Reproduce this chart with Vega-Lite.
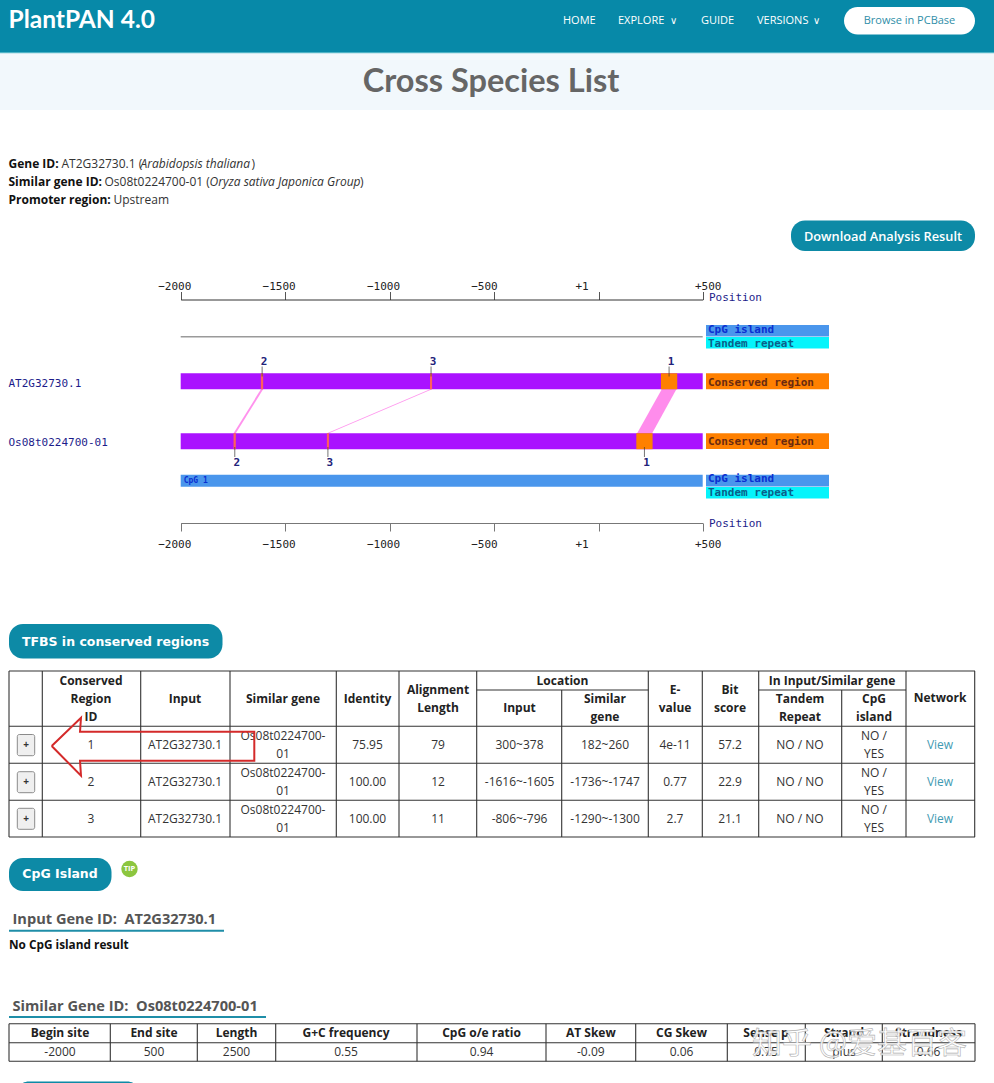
{"$schema":"https://vega.github.io/schema/vega-lite/v6.json","width":994,"height":1083,"padding":0,"autosize":{"type":"none"},"background":"#ffffff","view":{"stroke":null},"config":{"axis":{"grid":false}},
"datasets":{
"panels":[{"k":"banner","x":0,"x2":994,"y":0,"y2":52},{"k":"edge","x":0,"x2":994,"y":52,"y2":53.5},{"k":"strip","x":0,"x2":994,"y":53.5,"y2":110},{"k":"CpG","x":706,"x2":829,"y":325,"y2":336.5},{"k":"Tandem","x":706,"x2":829,"y":337,"y2":348.5},{"k":"Conserved","x":706,"x2":829,"y":373.3,"y2":389.3},{"k":"Conserved","x":706,"x2":829,"y":433.3,"y2":449},{"k":"CpG","x":706,"x2":829,"y":474.7,"y2":486.5},{"k":"Tandem","x":706,"x2":829,"y":487,"y2":498.5}],
"buttons":[{"k":"white","x":844,"x2":975,"y":7,"y2":34.5},{"k":"teal","x":791,"x2":975,"y":220.5,"y2":251},{"k":"teal","x":9,"x2":222.5,"y":624,"y2":658.5},{"k":"teal","x":9,"x2":111.5,"y":858,"y2":891},{"k":"teal","x":15,"x2":141,"y":1081.5,"y2":1112}],
"plus":[{"x":17.3,"x2":34.7,"y":734.5,"y2":755.7},{"x":17.3,"x2":34.7,"y":771.7,"y2":792.7},{"x":17.3,"x2":34.7,"y":808.3,"y2":829.3}],
"vlines":[{"x":9,"y":671,"y2":837},{"x":42.3,"y":671,"y2":837},{"x":140.7,"y":671,"y2":837},{"x":230,"y":671,"y2":837},{"x":336.3,"y":671,"y2":837},{"x":399,"y":671,"y2":837},{"x":476.7,"y":671,"y2":837},{"x":561.7,"y":690,"y2":837},{"x":648.3,"y":671,"y2":837},{"x":702.3,"y":671,"y2":837},{"x":758.7,"y":671,"y2":837},{"x":841.7,"y":690,"y2":837},{"x":906,"y":671,"y2":837},{"x":974.7,"y":671,"y2":837},{"x":9,"y":1023.7,"y2":1061.3},{"x":110.3,"y":1023.7,"y2":1061.3},{"x":197.3,"y":1023.7,"y2":1061.3},{"x":275.7,"y":1023.7,"y2":1061.3},{"x":417,"y":1023.7,"y2":1061.3},{"x":546,"y":1023.7,"y2":1061.3},{"x":635.7,"y":1023.7,"y2":1061.3},{"x":727.3,"y":1023.7,"y2":1061.3},{"x":805.3,"y":1023.7,"y2":1061.3},{"x":882.3,"y":1023.7,"y2":1061.3},{"x":975,"y":1023.7,"y2":1061.3}],
"hlines":[{"x":9,"x2":975,"y":671},{"x":476.7,"x2":648.3,"y":690},{"x":758.7,"x2":906,"y":690},{"x":9,"x2":975,"y":726.3},{"x":9,"x2":975,"y":763.3},{"x":9,"x2":975,"y":800.3},{"x":9,"x2":975,"y":837},{"x":9,"x2":975,"y":1023.7},{"x":9,"x2":975,"y":1042.7},{"x":9,"x2":975,"y":1061.3}],
"underlines":[{"x":9,"x2":224,"y":930.7},{"x":9,"x2":266,"y":1017}],
"arrow":[{"o":1,"x":51.7,"y":746},{"o":2,"x":81,"y":717.7},{"o":3,"x":80,"y":731.7},{"o":4,"x":254.3,"y":731.7},{"o":5,"x":254.3,"y":760.7},{"o":6,"x":80,"y":760.7},{"o":7,"x":81,"y":775.7},{"o":8,"x":51.7,"y":746}],
"ribbons":[{"region":"1","edge":0,"start":304,"end":374},{"region":"1","edge":1,"start":186,"end":258},{"region":"2","edge":0,"start":-1616,"end":-1605},{"region":"2","edge":1,"start":-1747,"end":-1736},{"region":"3","edge":0,"start":-806,"end":-796},{"region":"3","edge":1,"start":-1300,"end":-1290}],
"tracks":[{"gene":"input","feature":"sequence","start":-2000,"end":500},{"gene":"similar","feature":"sequence","start":-2000,"end":500},{"gene":"input","feature":"conserved","start":300,"end":378},{"gene":"similar","feature":"conserved","start":182,"end":260},{"gene":"input","feature":"short","start":-1616,"end":-1605},{"gene":"similar","feature":"short","start":-1747,"end":-1736},{"gene":"input","feature":"short","start":-806,"end":-796},{"gene":"similar","feature":"short","start":-1300,"end":-1290}],
"cpg":[{"gene":"similar","start":-2000,"end":500}],
"inputline":[{"gene":"input","start":-2000,"end":500}],
"marks":[{"gene":"input","region":"1","pos":339},{"gene":"similar","region":"1","pos":221},{"gene":"input","region":"2","pos":-1610},{"gene":"similar","region":"2","pos":-1741},{"gene":"input","region":"3","pos":-801},{"gene":"similar","region":"3","pos":-1295}],
"ruler":[{"pos":-2000},{"pos":-1500},{"pos":-1000},{"pos":-500},{"pos":1},{"pos":500}],
"legendBlue":[{"t":"CpG island","x":708,"y":329.5},{"t":"CpG island","x":708,"y":478.5}],
"legendTeal":[{"t":"Tandem repeat","x":708,"y":344},{"t":"Tandem repeat","x":708,"y":493}],
"legendDark":[{"t":"Conserved region","x":708,"y":382.5},{"t":"Conserved region","x":708,"y":441.5}],
"navy":[{"t":"Position","x":709,"y":298},{"t":"Position","x":709,"y":524},{"t":"AT2G32730.1","x":8.5,"y":383.5},{"t":"Os08t0224700-01","x":8.5,"y":443}],
"nav":[{"t":"HOME","x":563,"y":20.5},{"t":"EXPLORE","x":618,"y":20.5},{"t":"GUIDE","x":701,"y":20.5},{"t":"VERSIONS","x":757,"y":20.5}],
"chev":[{"t":"∨","x":670,"y":20.5},{"t":"∨","x":813,"y":20.5}],
"infoBold":[{"t":"Gene ID:","x":8.5,"y":164},{"t":"Similar gene ID:","x":8.5,"y":182},{"t":"Promoter region:","x":8.5,"y":200}],
"infoNormal":[{"t":"AT2G32730.1 (","x":61.5,"y":164},{"t":")","x":251.5,"y":164},{"t":"Os08t0224700-01 (","x":104.5,"y":182},{"t":")","x":360,"y":182},{"t":"Upstream","x":113.5,"y":200}],
"infoItalic":[{"t":"Arabidopsis thaliana","x":140.5,"y":164},{"t":"Oryza sativa Japonica Group","x":209.5,"y":182}],
"btnWide":[{"t":"TFBS in conserved regions","x":115.5,"y":641.5},{"t":"CpG Island","x":60,"y":873.5}],
"heads":[{"t":"Conserved\nRegion\nID","x":91,"y":680.5},{"t":"Input","x":185,"y":698.5},{"t":"Similar gene","x":283,"y":698.5},{"t":"Identity","x":367.5,"y":698.5},{"t":"Alignment\nLength","x":438,"y":689.5},{"t":"Location","x":562.5,"y":680.5},{"t":"Input","x":519.5,"y":708},{"t":"Similar\ngene","x":605,"y":699},{"t":"E-\nvalue","x":675,"y":689.5},{"t":"Bit\nscore","x":730,"y":689.5},{"t":"In Input/Similar gene","x":832,"y":680.5},{"t":"Tandem\nRepeat","x":800,"y":699},{"t":"CpG\nisland","x":874,"y":699},{"t":"Network","x":940,"y":698},{"t":"Begin site","x":60,"y":1033},{"t":"End site","x":154,"y":1033},{"t":"Length","x":236.5,"y":1033},{"t":"G+C frequency","x":346,"y":1033},{"t":"CpG o/e ratio","x":481.5,"y":1033},{"t":"AT Skew","x":590.8,"y":1033},{"t":"CG Skew","x":681.5,"y":1033},{"t":"Sense p","x":766,"y":1033},{"t":"Strand","x":844,"y":1033},{"t":"Strandness","x":928.5,"y":1033}],
"cells":[{"t":"1","x":91,"y":745},{"t":"AT2G32730.1","x":185,"y":745},{"t":"Os08t0224700-\n01","x":283,"y":736},{"t":"75.95","x":367.5,"y":745},{"t":"79","x":438,"y":745},{"t":"300~378","x":519.5,"y":745},{"t":"182~260","x":605,"y":745},{"t":"4e-11","x":675,"y":745},{"t":"57.2","x":730,"y":745},{"t":"NO / NO","x":800,"y":745},{"t":"NO /\nYES","x":874,"y":736},
{"t":"2","x":91,"y":781.5},{"t":"AT2G32730.1","x":185,"y":781.5},{"t":"Os08t0224700-\n01","x":283,"y":772.5},{"t":"100.00","x":367.5,"y":781.5},{"t":"12","x":438,"y":781.5},{"t":"-1616~-1605","x":519.5,"y":781.5},{"t":"-1736~-1747","x":605,"y":781.5},{"t":"0.77","x":675,"y":781.5},{"t":"22.9","x":730,"y":781.5},{"t":"NO / NO","x":800,"y":781.5},{"t":"NO /\nYES","x":874,"y":772.5},
{"t":"3","x":91,"y":818.5},{"t":"AT2G32730.1","x":185,"y":818.5},{"t":"Os08t0224700-\n01","x":283,"y":809.5},{"t":"100.00","x":367.5,"y":818.5},{"t":"11","x":438,"y":818.5},{"t":"-806~-796","x":519.5,"y":818.5},{"t":"-1290~-1300","x":605,"y":818.5},{"t":"2.7","x":675,"y":818.5},{"t":"21.1","x":730,"y":818.5},{"t":"NO / NO","x":800,"y":818.5},{"t":"NO /\nYES","x":874,"y":809.5},
{"t":"-2000","x":60,"y":1052},{"t":"500","x":154,"y":1052},{"t":"2500","x":236.5,"y":1052},{"t":"0.55","x":346,"y":1052},{"t":"0.94","x":481.5,"y":1052},{"t":"-0.09","x":590.8,"y":1052},{"t":"0.06","x":681.5,"y":1052},{"t":"0.75","x":766,"y":1052},{"t":"plus","x":844,"y":1052},{"t":"0.66","x":928.5,"y":1052}],
"views":[{"t":"View","x":940,"y":745},{"t":"View","x":940,"y":781.5},{"t":"View","x":940,"y":818.5}],
"pluses":[{"t":"+","x":26,"y":744.5},{"t":"+","x":26,"y":781.5},{"t":"+","x":26,"y":818.5}],
"subheads":[{"t":"Input Gene ID:\u00a0\u00a0AT2G32730.1","x":12.5,"y":919.5},{"t":"Similar Gene ID:\u00a0\u00a0Os08t0224700-01","x":12.5,"y":1006.5}],
"tip":[{"x":129.5,"y":869,"t":"TIP"}]
},
"encoding":{"x":{"field":"x","type":"quantitative","scale":{"domain":[0,994],"nice":false,"zero":false},"axis":null},"y":{"field":"y","type":"quantitative","scale":{"domain":[0,1083],"reverse":true,"nice":false,"zero":false},"axis":null}},
"layer":[
{"data":{"name":"panels"},"mark":{"type":"rect"},"encoding":{"x2":{"field":"x2"},"y2":{"field":"y2"},"color":{"field":"k","type":"nominal","legend":null,"scale":{"domain":["banner","edge","strip","CpG","Tandem","Conserved"],"range":["#0789a8","#4fb3c6","#f2f8fc","#4a96ec","#06f4fb","#ff8000"]}}}},
{"data":{"name":"buttons"},"mark":{"type":"rect","cornerRadius":14},"encoding":{"x2":{"field":"x2"},"y2":{"field":"y2"},"color":{"field":"k","type":"nominal","legend":null,"scale":{"domain":["white","teal"],"range":["#ffffff","#0d8aa6"]}}}},
{"data":{"name":"vlines"},"mark":{"type":"rule","color":"#333333","strokeWidth":1.1},"encoding":{"y2":{"field":"y2"}}},
{"data":{"name":"hlines"},"mark":{"type":"rule","color":"#333333","strokeWidth":1.1},"encoding":{"x2":{"field":"x2"}}},
{"data":{"name":"underlines"},"mark":{"type":"rule","color":"#1f8ea8","strokeWidth":2},"encoding":{"x2":{"field":"x2"}}},
{"data":{"name":"plus"},"mark":{"type":"rect","cornerRadius":2,"fill":"#efefef","stroke":"#8a8a8a","strokeWidth":1},"encoding":{"x2":{"field":"x2"},"y2":{"field":"y2"}}},
{"data":{"name":"ribbons"},"mark":{"type":"area","orient":"horizontal","color":"#ff8cec"},"encoding":{"x":{"field":"start","type":"quantitative","scale":{"domain":[-2000,500],"range":[180.7,702.7],"nice":false,"zero":false},"axis":null},"x2":{"field":"end"},"y":{"field":"edge","type":"quantitative","scale":{"domain":[0,1],"range":[389.3,433.3],"nice":false,"zero":false},"axis":null},"detail":{"field":"region"},"opacity":{"field":"region","type":"nominal","legend":null,"scale":{"domain":["1","2","3"],"range":[1,0.9,0.55]}}}},
{"data":{"name":"inputline"},"mark":{"type":"rect","height":1.6,"color":"#9a9a9a"},"encoding":{"x":{"field":"start","type":"quantitative","scale":{"domain":[-2000,500],"range":[180.7,702.7],"nice":false,"zero":false},"axis":null},"x2":{"field":"end"},"y":{"field":"gene","type":"nominal","scale":{"type":"point","domain":["input","other"],"range":[336.7,400],"padding":0},"axis":null}}},
{"data":{"name":"tracks"},"mark":{"type":"rect","height":16},"encoding":{"x":{"field":"start","type":"quantitative","scale":{"domain":[-2000,500],"range":[180.7,702.7],"nice":false,"zero":false},"axis":null},"x2":{"field":"end"},"y":{"field":"gene","type":"nominal","scale":{"type":"point","domain":["input","similar"],"range":[381.3,441.2],"padding":0},"axis":null},"color":{"field":"feature","type":"nominal","legend":null,"scale":{"domain":["sequence","conserved","short"],"range":["#aa12ff","#ff8000","#ff5f5a"]}}}},
{"data":{"name":"cpg"},"mark":{"type":"rect","height":12,"color":"#4a96ec"},"encoding":{"x":{"field":"start","type":"quantitative","scale":{"domain":[-2000,500],"range":[180.7,702.7],"nice":false,"zero":false},"axis":null},"x2":{"field":"end"},"y":{"field":"gene","type":"nominal","scale":{"type":"point","domain":["other","similar"],"range":[400,480.7],"padding":0},"axis":null}}},
{"data":{"name":"cpg"},"mark":{"type":"text","text":"CpG 1","align":"left","baseline":"middle","dx":3,"font":"DejaVu Sans Mono","fontWeight":"bold","fontSize":8,"color":"#0a2fd0"},"encoding":{"x":{"field":"start","type":"quantitative","scale":{"domain":[-2000,500],"range":[180.7,702.7],"nice":false,"zero":false},"axis":null},"y":{"field":"gene","type":"nominal","scale":{"type":"point","domain":["other","similar"],"range":[400,480.7],"padding":0},"axis":null}}},
{"data":{"name":"marks"},"mark":{"type":"tick","size":10,"thickness":1,"color":"#3a3a3a"},"encoding":{"x":{"field":"pos","type":"quantitative","scale":{"domain":[-2000,500],"range":[180.7,702.7],"nice":false,"zero":false},"axis":null},"y":{"field":"gene","type":"nominal","scale":{"type":"point","domain":["input","similar"],"range":[371.5,452],"padding":0},"axis":null}}},
{"data":{"name":"marks"},"mark":{"type":"text","dx":2,"font":"DejaVu Sans Mono","fontSize":11,"fontWeight":"bold","baseline":"middle","color":"#22227a"},"encoding":{"text":{"field":"region"},"x":{"field":"pos","type":"quantitative","scale":{"domain":[-2000,500],"range":[180.7,702.7],"nice":false,"zero":false},"axis":null},"y":{"field":"gene","type":"nominal","scale":{"type":"point","domain":["input","similar"],"range":[361.5,462.5],"padding":0},"axis":null}}},
{"data":{"name":"ruler"},"mark":{"type":"rule","opacity":0},"encoding":{"y":{"value":0},"x":{"field":"pos","type":"quantitative","scale":{"domain":[-2000,500],"range":[180.7,702.7],"nice":false,"zero":false},"axis":{"orient":"top","offset":-299.5,"values":[-2000,-1500,-1000,-500,1,500],"title":null,"format":"d","labelExpr":"datum.value==1?'+1':datum.value==500?'+500':datum.label","tickSize":8,"tickColor":"#555555","domainColor":"#333333","labelFont":"DejaVu Sans Mono","labelFontSize":11,"labelColor":"#222222","labelPadding":0,"labelFlush":false,"labelOverlap":false,"labelBound":false,"labelOffset":{"condition":[{"test":"datum.value==1","value":-17},{"test":"datum.value==500","value":5},{"test":"datum.value==-500","value":-10}],"value":-6.5}}}}},
{"data":{"name":"ruler"},"mark":{"type":"rule","opacity":0},"encoding":{"y":{"value":0},"x":{"field":"pos","type":"quantitative","scale":{"domain":[-2000,500],"range":[180.7,702.7],"nice":false,"zero":false},"axis":{"orient":"bottom","offset":-560,"values":[-2000,-1500,-1000,-500,1,500],"title":null,"format":"d","labelExpr":"datum.value==1?'+1':datum.value==500?'+500':datum.label","tickSize":8,"tickColor":"#777777","domainColor":"#777777","labelFont":"DejaVu Sans Mono","labelFontSize":11,"labelColor":"#222222","labelPadding":7,"labelFlush":false,"labelOverlap":false,"labelBound":false,"labelOffset":{"condition":[{"test":"datum.value==1","value":-17},{"test":"datum.value==500","value":5},{"test":"datum.value==-500","value":-10}],"value":-6.5}}}}},
{"data":{"name":"legendBlue"},"mark":{"type":"text","align":"left","baseline":"middle","font":"DejaVu Sans Mono","fontWeight":"bold","fontSize":11,"color":"#0a2fd0"},"encoding":{"text":{"field":"t"}}},
{"data":{"name":"legendTeal"},"mark":{"type":"text","align":"left","baseline":"middle","font":"DejaVu Sans Mono","fontWeight":"bold","fontSize":11,"color":"#0a5f8a"},"encoding":{"text":{"field":"t"}}},
{"data":{"name":"legendDark"},"mark":{"type":"text","align":"left","baseline":"middle","font":"DejaVu Sans Mono","fontWeight":"bold","fontSize":11,"color":"#6a2a10"},"encoding":{"text":{"field":"t"}}},
{"data":{"name":"navy"},"mark":{"type":"text","align":"left","baseline":"middle","font":"DejaVu Sans Mono","fontSize":11,"color":"#1c1c8a"},"encoding":{"text":{"field":"t"}}},
{"data":{"values":[{"t":"PlantPAN 4.0","x":8.5,"y":20.5}]},"mark":{"type":"text","align":"left","baseline":"middle","font":"Lato","fontWeight":"bold","fontSize":24.5,"color":"#ffffff"},"encoding":{"text":{"field":"t"}}},
{"data":{"values":[{"t":"Cross Species List","x":491,"y":82}]},"mark":{"type":"text","align":"center","baseline":"middle","font":"Lato","fontWeight":"bold","fontSize":32.5,"color":"#666666"},"encoding":{"text":{"field":"t"}}},
{"data":{"name":"nav"},"mark":{"type":"text","align":"left","baseline":"middle","font":"Open Sans","fontSize":11,"color":"#ffffff"},"encoding":{"text":{"field":"t"}}},
{"data":{"name":"chev"},"mark":{"type":"text","align":"left","baseline":"middle","font":"DejaVu Sans","fontSize":10,"color":"#ffffff"},"encoding":{"text":{"field":"t"}}},
{"data":{"values":[{"t":"Browse in PCBase","x":909.5,"y":20.5}]},"mark":{"type":"text","align":"center","baseline":"middle","font":"Open Sans","fontSize":11,"color":"#2f8ea8"},"encoding":{"text":{"field":"t"}}},
{"data":{"name":"infoBold"},"mark":{"type":"text","align":"left","baseline":"middle","font":"Open Sans","fontWeight":"bold","fontSize":12,"color":"#111111"},"encoding":{"text":{"field":"t"}}},
{"data":{"name":"infoNormal"},"mark":{"type":"text","align":"left","baseline":"middle","font":"Open Sans","fontSize":12,"color":"#333333"},"encoding":{"text":{"field":"t"}}},
{"data":{"name":"infoItalic"},"mark":{"type":"text","align":"left","baseline":"middle","font":"Open Sans","fontStyle":"italic","fontSize":12,"color":"#333333"},"encoding":{"text":{"field":"t"}}},
{"data":{"values":[{"t":"Download Analysis Result","x":883,"y":236.5}]},"mark":{"type":"text","align":"center","baseline":"middle","font":"Open Sans","fontWeight":600,"fontSize":12.8,"color":"#ffffff"},"encoding":{"text":{"field":"t"}}},
{"data":{"name":"btnWide"},"mark":{"type":"text","align":"center","baseline":"middle","font":"DejaVu Sans","fontWeight":"bold","fontSize":12.5,"color":"#ffffff"},"encoding":{"text":{"field":"t"}}},
{"data":{"name":"heads"},"mark":{"type":"text","align":"center","baseline":"middle","lineBreak":"\n","lineHeight":18,"font":"Open Sans","fontWeight":"bold","fontSize":12,"color":"#222222"},"encoding":{"text":{"field":"t"}}},
{"data":{"name":"cells"},"mark":{"type":"text","align":"center","baseline":"middle","lineBreak":"\n","lineHeight":18,"font":"Open Sans","fontSize":12,"color":"#333333"},"encoding":{"text":{"field":"t"}}},
{"data":{"name":"views"},"mark":{"type":"text","align":"center","baseline":"middle","font":"Open Sans","fontSize":12,"color":"#3f9bb3"},"encoding":{"text":{"field":"t"}}},
{"data":{"name":"pluses"},"mark":{"type":"text","align":"center","baseline":"middle","font":"Open Sans","fontWeight":"bold","fontSize":10,"color":"#333333"},"encoding":{"text":{"field":"t"}}},
{"data":{"name":"subheads"},"mark":{"type":"text","align":"left","baseline":"middle","font":"Open Sans","fontWeight":"bold","fontSize":14.6,"color":"#555555"},"encoding":{"text":{"field":"t"}}},
{"data":{"values":[{"t":"No CpG island result","x":9,"y":944.5}]},"mark":{"type":"text","align":"left","baseline":"middle","font":"Open Sans","fontWeight":"bold","fontSize":11.8,"color":"#111111"},"encoding":{"text":{"field":"t"}}},
{"data":{"name":"tip"},"mark":{"type":"circle","size":270,"color":"#8cc63f","opacity":1}},
{"data":{"name":"tip"},"mark":{"type":"text","align":"center","baseline":"middle","font":"Open Sans","fontWeight":"bold","fontSize":7.5,"color":"#ffffff"},"encoding":{"text":{"field":"t"}}},
{"data":{"name":"arrow"},"mark":{"type":"line","color":"#d42a2a","strokeWidth":2,"interpolate":"linear"},"encoding":{"order":{"field":"o","type":"quantitative"}}},
{"data":{"values":[{"t":"知乎 @爱基百客","x":752,"y":1044}]},"mark":{"type":"text","align":"left","baseline":"middle","font":"Noto Sans CJK SC","fontSize":30,"color":"#ffffff","opacity":0.9,"stroke":"#a8a8a8","strokeWidth":0.6},"encoding":{"text":{"field":"t"}}}
],
"resolve":{"scale":{"x":"independent","y":"independent","color":"independent","opacity":"independent"}}}
